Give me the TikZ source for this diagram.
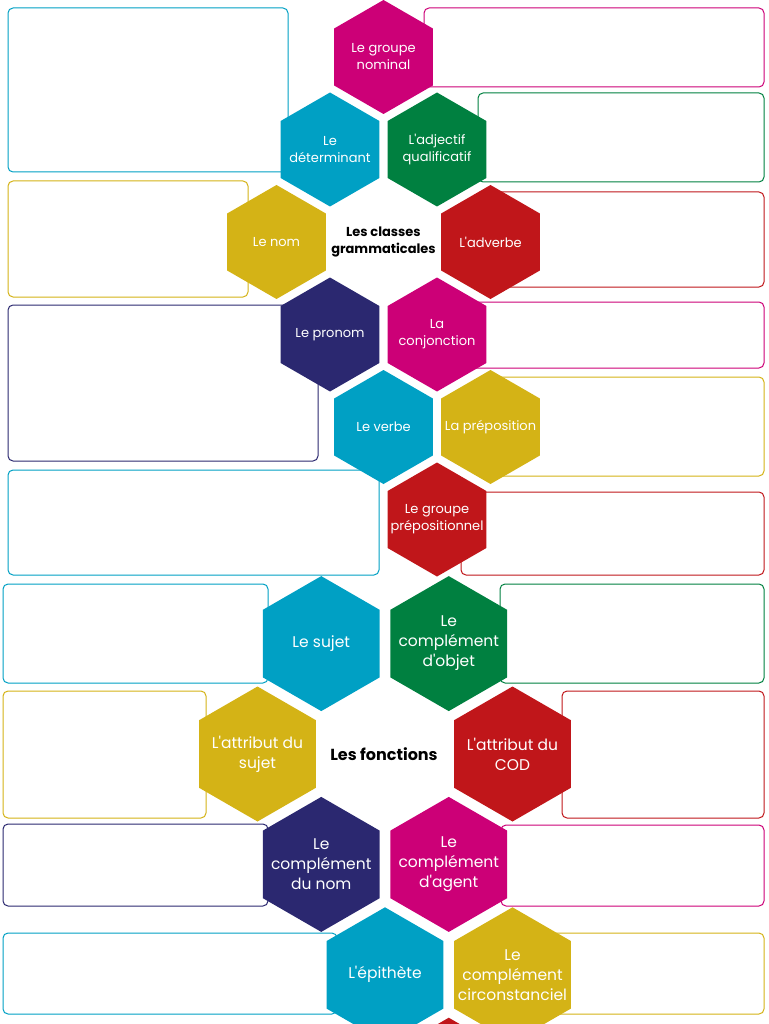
\documentclass[tikz,border=0pt]{standalone}
\usepackage{fontspec}
\newfontfamily\hexfont{Poppins}
\usetikzlibrary{positioning}

\definecolor{cmag}{RGB}{204,0,119}
\definecolor{cblue}{RGB}{0,160,196}
\definecolor{cgreen}{RGB}{0,128,64}
\definecolor{cyellow}{RGB}{212,179,22}
\definecolor{cred}{RGB}{192,22,26}
\definecolor{cnavy}{RGB}{43,40,112}

\tikzset{
  box/.style={draw=#1, line width=1pt, rounded corners=5pt, fill=white},
  smalllabel/.style={text=white, align=center, inner sep=0pt, font=\hexfont\fontsize{13}{17}\selectfont},
  biglabel/.style={text=white, align=center, inner sep=0pt, font=\hexfont\fontsize{15.5}{20}\selectfont},
  title/.style={align=center, inner sep=0pt, font=\hexfont\bfseries\fontsize{13}{17}\selectfont}
}

% name, centre, radius, colour, label style, text
\newcommand{\hexa}[6]{%
  \fill[#4] (#2) +(90:#3) -- +(30:#3) -- +(-30:#3) -- +(-90:#3) -- +(-150:#3) -- +(150:#3) -- cycle;
  \node[#5] (#1) at (#2) {#6};}

\begin{document}
\begin{tikzpicture}[x=1pt,y=-1pt]
  \useasboundingbox (0,0) rectangle (768,1024);
  \clip (0,0) rectangle (768,1024);

  % boxes, left
  \draw[box=cblue] (8,8) rectangle (288,172);
  \draw[box=cyellow] (8,181) rectangle (248,297);
  \draw[box=cnavy] (8,305) rectangle (318,461);
  \draw[box=cblue] (8,470) rectangle (379,575);
  \draw[box=cblue] (3,584) rectangle (268,683);
  \draw[box=cyellow] (3,691) rectangle (206,818);
  \draw[box=cnavy] (3,824) rectangle (268,906);
  \draw[box=cblue] (3,933) rectangle (337,1014);
  % boxes, right
  \draw[box=cmag] (424,8) rectangle (764,87);
  \draw[box=cgreen] (478,93) rectangle (764,182);
  \draw[box=cred] (480,192) rectangle (764,287);
  \draw[box=cmag] (470,302) rectangle (764,368);
  \draw[box=cyellow] (480,377) rectangle (764,476);
  \draw[box=cred] (461,492) rectangle (764,575);
  \draw[box=cgreen] (500,584) rectangle (764,683);
  \draw[box=cred] (562,691) rectangle (764,818);
  \draw[box=cmag] (501,825) rectangle (764,906);
  \draw[box=cyellow] (480,933) rectangle (764,1014);

  % les classes grammaticales
  \node[title] (classes) at (383.5,242) {Les classes\\grammaticales};
  \hexa{gn}{383.5,57}{57}{cmag}{smalllabel}{Le groupe\\nominal}
  \hexa{det}{330,149.5}{57}{cblue}{smalllabel}{Le\\déterminant}
  \hexa{adj}{437,149.5}{57}{cgreen}{smalllabel}{L'adjectif\\qualificatif}
  \hexa{nom}{276.5,242}{57}{cyellow}{smalllabel}{Le nom}
  \hexa{adv}{490.5,242}{57}{cred}{smalllabel}{L'adverbe}
  \hexa{pro}{330,334.5}{57}{cnavy}{smalllabel}{Le pronom}
  \hexa{conj}{437,334.5}{57}{cmag}{smalllabel}{La\\conjonction}
  \hexa{verbe}{383.5,427}{57}{cblue}{smalllabel}{Le verbe}
  \hexa{prep}{490.5,427}{57}{cyellow}{smalllabel}{La préposition}
  \hexa{gp}{437,519.5}{57}{cred}{smalllabel}{Le groupe\\prépositionnel}

  % les fonctions
  \node[title, font=\hexfont\bfseries\fontsize{16}{19}\selectfont] (fonctions) at (384,754) {Les fonctions};
  \hexa{sujet}{321.25,643.6}{67.5}{cblue}{biglabel}{Le sujet}
  \hexa{objet}{448.75,643.6}{67.5}{cgreen}{biglabel}{Le\\complément\\d'objet}
  \hexa{attsuj}{257.5,754}{67.5}{cyellow}{biglabel}{L'attribut du\\sujet}
  \hexa{attcod}{512.5,754}{67.5}{cred}{biglabel}{L'attribut du\\COD}
  \hexa{cnom}{321.25,864.4}{67.5}{cnavy}{biglabel}{Le\\complément\\du nom}
  \hexa{agent}{448.75,864.4}{67.5}{cmag}{biglabel}{Le\\complément\\d'agent}
  \hexa{epi}{385,974.8}{67.5}{cblue}{biglabel}{L'épithète}
  \hexa{circ}{512.5,974.8}{67.5}{cyellow}{biglabel}{Le\\complément\\circonstanciel}
  \hexa{suite}{448.75,1085.2}{67.5}{cred}{biglabel}{}
\end{tikzpicture}
\end{document}
